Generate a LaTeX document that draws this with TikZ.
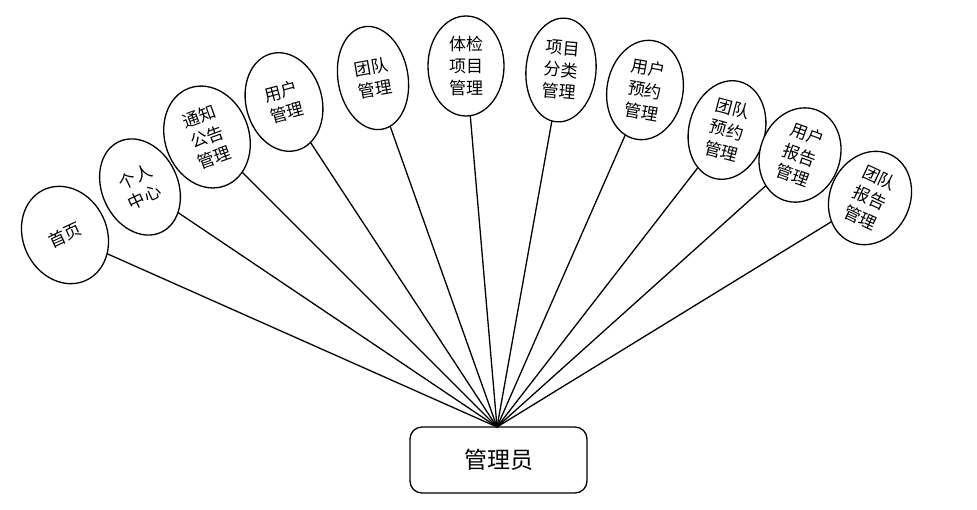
\documentclass[tikz,border=0pt]{standalone}
\usepackage{fontspec}
\setmainfont{Noto Sans CJK SC}
\usetikzlibrary{shapes.geometric}
\begin{document}
\begin{tikzpicture}[x=1pt,y=-1pt,
  ell/.style={draw,line width=1.3pt,ellipse,inner sep=0pt,fill=white,align=center,font=\fontsize{17}{22}\selectfont},
  conn/.style={line width=1.3pt}]
\useasboundingbox (0,0) rectangle (977,509);
\node[draw,line width=1.3pt,rounded corners=12pt,minimum width=177pt,minimum height=66pt,font=\fontsize{23}{24}\selectfont] (adm) at (498.5,460) {管理员};
\coordinate (c) at (497,427);
\foreach \n/\x/\y/\w/\h/\r/\t in {
 a/65/235/84/100/25/首页,
 b/140/187/76/100/25/个人\\中心,
 d/207/137/84/104/20/通知\\公告\\管理,
 e/284/102/76/100/15/用户\\管理,
 f/373/78/70/104/10/团队\\管理,
 g/466/66/76/100/0/体检\\项目\\管理,
 h/561/70/70/104/-5/项目\\分类\\管理,
 i/645/90/76/100/-10/用户\\预约\\管理,
 j/727/130/76/100/-15/团队\\预约\\管理,
 k/800/155/80/96/-20/用户\\报告\\管理,
 l/870/198/80/96/-25/团队\\报告\\管理}{
  \draw[conn] (\x,\y) -- (c);
  \node[ell,minimum width=\w pt,minimum height=\h pt,rotate=\r] (\n) at (\x,\y) {\t};
}
\end{tikzpicture}
\end{document}
